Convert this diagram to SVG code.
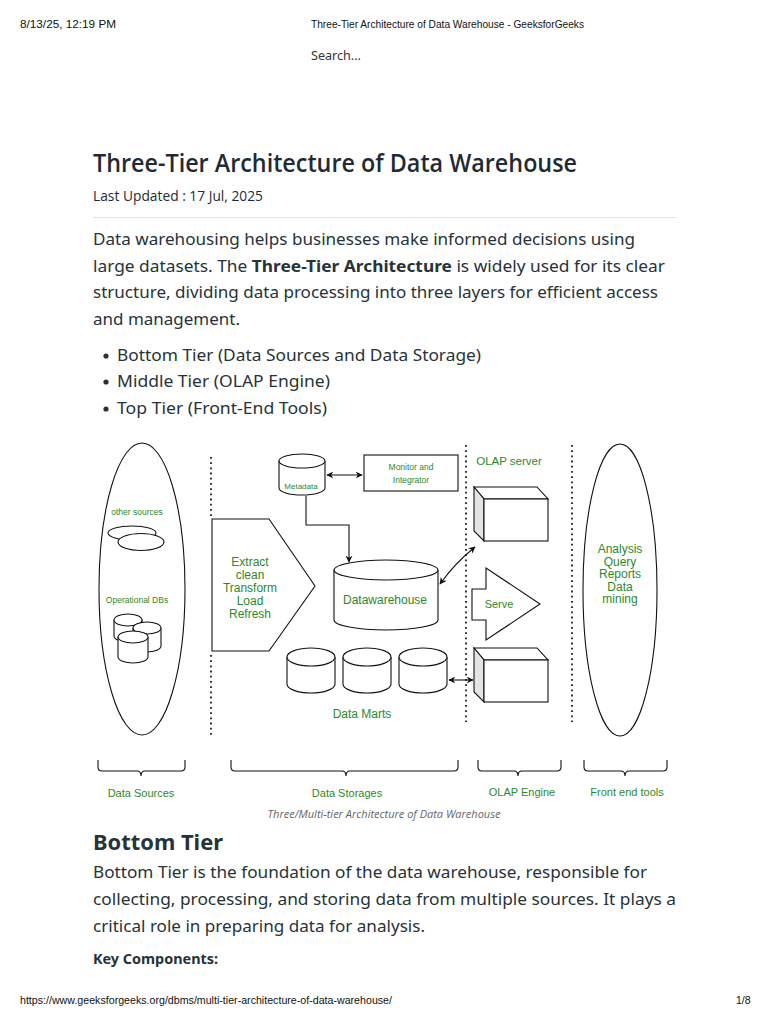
<svg xmlns="http://www.w3.org/2000/svg" width="768" height="1024" viewBox="0 0 768 1024">
<style>
.hdr{font-family:"Liberation Sans",Arial,sans-serif;font-size:10.5px;fill:#111}
.body{font-family:"Noto Sans","Open Sans",sans-serif;font-size:16.5px;fill:#273239}
.g{font-family:"Liberation Sans",Arial,sans-serif;fill:#2a8a2a;text-anchor:middle}
.ln{fill:none;stroke:#111;stroke-width:1.1}
.sh{fill:#fff;stroke:#111;stroke-width:1.1}
.dot{stroke:#333;stroke-width:2;stroke-dasharray:1.8 3.4}
.side{fill:#e4e4e4;stroke:#111;stroke-width:1.1}
</style>
<defs>
<marker id="ah" viewBox="0 0 10 10" refX="9" refY="5" markerWidth="7" markerHeight="7" orient="auto-start-reverse" markerUnits="userSpaceOnUse"><path d="M0,0 L10,5 L0,10 L3,5 z" fill="#111"/></marker>
</defs>
<rect width="768" height="1024" fill="#fff"/>
<!-- page header -->
<text class="hdr" x="20" y="28" textLength="96" lengthAdjust="spacingAndGlyphs">8/13/25, 12:19 PM</text>
<text class="hdr" x="311" y="28" textLength="273" lengthAdjust="spacingAndGlyphs">Three-Tier Architecture of Data Warehouse - GeeksforGeeks</text>
<text x="311" y="60" font-family="'Noto Sans',sans-serif" font-size="12.5" fill="#333" textLength="50" lengthAdjust="spacingAndGlyphs">Search...</text>
<text x="93" y="172" font-family="'Open Sans','Noto Sans',sans-serif" font-size="25" font-weight="600" fill="#1f2a35" textLength="484" lengthAdjust="spacingAndGlyphs">Three-Tier Architecture of Data Warehouse</text>
<text x="93" y="201" font-family="'Open Sans','Noto Sans',sans-serif" font-size="14" fill="#1f2a35" textLength="170" lengthAdjust="spacingAndGlyphs">Last Updated : 17 Jul, 2025</text>
<line x1="93" y1="217.5" x2="676" y2="217.5" stroke="#e4e4e4" stroke-width="1"/>
<text class="body" x="93" y="245" textLength="542" lengthAdjust="spacingAndGlyphs">Data warehousing helps businesses make informed decisions using</text>
<text class="body" x="93" y="272" textLength="572" lengthAdjust="spacingAndGlyphs">large datasets. The <tspan font-weight="bold">Three-Tier Architecture</tspan> is widely used for its clear</text>
<text class="body" x="93" y="298" textLength="565" lengthAdjust="spacingAndGlyphs">structure, dividing data processing into three layers for efficient access</text>
<text class="body" x="93" y="325" textLength="147" lengthAdjust="spacingAndGlyphs">and management.</text>
<circle cx="106" cy="356" r="2.6" fill="#273239"/>
<circle cx="106" cy="382" r="2.6" fill="#273239"/>
<circle cx="106" cy="409" r="2.6" fill="#273239"/>
<text class="body" x="117" y="361" textLength="364" lengthAdjust="spacingAndGlyphs">Bottom Tier (Data Sources and Data Storage)</text>
<text class="body" x="117" y="387" textLength="213" lengthAdjust="spacingAndGlyphs">Middle Tier (OLAP Engine)</text>
<text class="body" x="117" y="414" textLength="210" lengthAdjust="spacingAndGlyphs">Top Tier (Front-End Tools)</text>

<!-- tier separators -->
<g id="separators">
<line class="dot" x1="211" y1="457" x2="211" y2="519"/>
<line class="dot" x1="211" y1="655" x2="211" y2="736"/>
<line class="dot" x1="466" y1="445" x2="466" y2="722"/>
<line class="dot" x1="572" y1="445" x2="572" y2="722"/>
</g>

<g id="data-sources">
<ellipse class="sh" cx="142" cy="589" rx="43" ry="146"/>
<text class="g" x="137" y="515" font-size="8.5">other sources</text>
<ellipse class="sh" cx="132" cy="533" rx="24" ry="7"/>
<ellipse class="sh" cx="141" cy="542" rx="23" ry="8.5"/>
<text class="g" x="137" y="603" font-size="8.5">Operational DBs</text>
<path class="sh" d="M114,620 v16 a14,6 0 0 0 28,0 v-16"/>
<ellipse class="sh" cx="128" cy="620" rx="14" ry="6"/>
<path class="sh" d="M133,628 v18 a14,6 0 0 0 28,0 v-18"/>
<ellipse class="sh" cx="147" cy="628" rx="14" ry="6"/>
<path class="sh" d="M118,637 v20 a15,6 0 0 0 30,0 v-20"/>
<ellipse class="sh" cx="133" cy="637" rx="15" ry="6"/>
</g>

<g id="etl">
<polygon class="sh" points="212,519 269,519 315,586 269,651 212,651"/>
<text class="g" font-size="12"><tspan x="250" y="566">Extract</tspan><tspan x="250" y="579">clean</tspan><tspan x="250" y="592">Transform</tspan><tspan x="250" y="605">Load</tspan><tspan x="250" y="618">Refresh</tspan></text>
</g>

<g id="metadata">
<path class="sh" d="M279,461 v27 a23,7 0 0 0 46,0 v-27"/>
<ellipse class="sh" cx="302" cy="461" rx="23" ry="7"/>
<text class="g" x="301" y="489" font-size="8">Metadata</text>
</g>

<g id="monitor">
<rect class="sh" x="364" y="455" width="94" height="36"/>
<text class="g" x="411" y="470" font-size="8.5">Monitor and</text>
<text class="g" x="411" y="483" font-size="8.5">Integrator</text>
</g>

<g id="datawarehouse">
<path class="sh" d="M334,570 v50 a52,10 0 0 0 104,0 v-50"/>
<ellipse class="sh" cx="386" cy="570" rx="52" ry="10"/>
<text class="g" x="385" y="604" font-size="12">Datawarehouse</text>
</g>

<g id="data-marts">
<path class="sh" d="M287,657 v27 a24,9 0 0 0 48,0 v-27"/>
<ellipse class="sh" cx="311" cy="657" rx="24" ry="9"/>
<path class="sh" d="M343,657 v27 a24,9 0 0 0 48,0 v-27"/>
<ellipse class="sh" cx="367" cy="657" rx="24" ry="9"/>
<path class="sh" d="M399,657 v27 a24,9 0 0 0 48,0 v-27"/>
<ellipse class="sh" cx="423" cy="657" rx="24" ry="9"/>
<text class="g" x="362" y="718" font-size="12">Data Marts</text>
</g>

<g id="olap-server">
<text class="g" x="509" y="465" font-size="11.5">OLAP server</text>
<polygon class="sh" points="474,487 537,487 548,499 484,499"/>
<polygon class="side" points="474,487 484,499 484,541 474,531"/>
<rect class="sh" x="484" y="499" width="64" height="42"/>
<polygon class="sh" points="474,648 537,648 548,660 484,660"/>
<polygon class="side" points="474,648 484,660 484,702 474,692"/>
<rect class="sh" x="484" y="660" width="64" height="42"/>
</g>

<g id="serve">
<polygon class="sh" points="472,589 486,589 486,568 540,604 486,640 486,620 472,620"/>
<text class="g" x="499" y="608" font-size="11">Serve</text>
</g>

<g id="front-end">
<ellipse class="sh" cx="620" cy="590" rx="37" ry="146"/>
<text class="g" font-size="12"><tspan x="620" y="553">Analysis</tspan><tspan x="620" y="566">Query</tspan><tspan x="620" y="578">Reports</tspan><tspan x="620" y="591">Data</tspan><tspan x="620" y="603">mining</tspan></text>
</g>

<g id="connectors">
<line class="ln" x1="327" y1="475" x2="362" y2="475" marker-start="url(#ah)" marker-end="url(#ah)"/>
<polyline class="ln" points="306,496 306,525 349,525 349,562" marker-end="url(#ah)"/>
<path class="ln" d="M440,584 Q455,563 475,547" marker-start="url(#ah)" marker-end="url(#ah)"/>
<line class="ln" x1="449" y1="680" x2="473" y2="680" marker-start="url(#ah)" marker-end="url(#ah)"/>
</g>

<g id="braces">
<path class="ln" d="M98,760 v7 q0,4 4,4 h35 q4,0 4,5 q0,-5 4,-5 h36 q4,0 4,-4 v-7"/>
<path class="ln" d="M231,760 v7 q0,4 4,4 h107 q4,0 4,5 q0,-5 4,-5 h104 q4,0 4,-4 v-7"/>
<path class="ln" d="M478,760 v7 q0,4 4,4 h32 q4,0 4,5 q0,-5 4,-5 h35 q4,0 4,-4 v-7"/>
<path class="ln" d="M584,760 v7 q0,4 4,4 h33 q4,0 4,5 q0,-5 4,-5 h34 q4,0 4,-4 v-7"/>
<text class="g" x="141" y="797" font-size="11">Data Sources</text>
<text class="g" x="347" y="797" font-size="11">Data Storages</text>
<text class="g" x="522" y="796" font-size="11">OLAP Engine</text>
<text class="g" x="627" y="796" font-size="11">Front end tools</text>
</g>
<text x="384" y="818" font-family="'Open Sans','Noto Sans',sans-serif" font-style="italic" font-size="11" fill="#666" text-anchor="middle">Three/Multi-tier Architecture of Data Warehouse</text>

<text x="93" y="850" font-family="'Noto Sans','Open Sans',sans-serif" font-size="22" font-weight="bold" fill="#273239" textLength="130" lengthAdjust="spacingAndGlyphs">Bottom Tier</text>
<text class="body" x="93" y="878" textLength="554" lengthAdjust="spacingAndGlyphs">Bottom Tier is the foundation of the data warehouse, responsible for</text>
<text class="body" x="93" y="905" textLength="583" lengthAdjust="spacingAndGlyphs">collecting, processing, and storing data from multiple sources. It plays a</text>
<text class="body" x="93" y="932" textLength="332" lengthAdjust="spacingAndGlyphs">critical role in preparing data for analysis.</text>
<text x="93" y="964" font-family="'Noto Sans',sans-serif" font-size="13.5" font-weight="bold" fill="#273239" textLength="125" lengthAdjust="spacingAndGlyphs">Key Components:</text>
<text class="hdr" x="20" y="1004" textLength="372" lengthAdjust="spacingAndGlyphs">https://www.geeksforgeeks.org/dbms/multi-tier-architecture-of-data-warehouse/</text>
<text class="hdr" x="736" y="1004">1/8</text>
</svg>
